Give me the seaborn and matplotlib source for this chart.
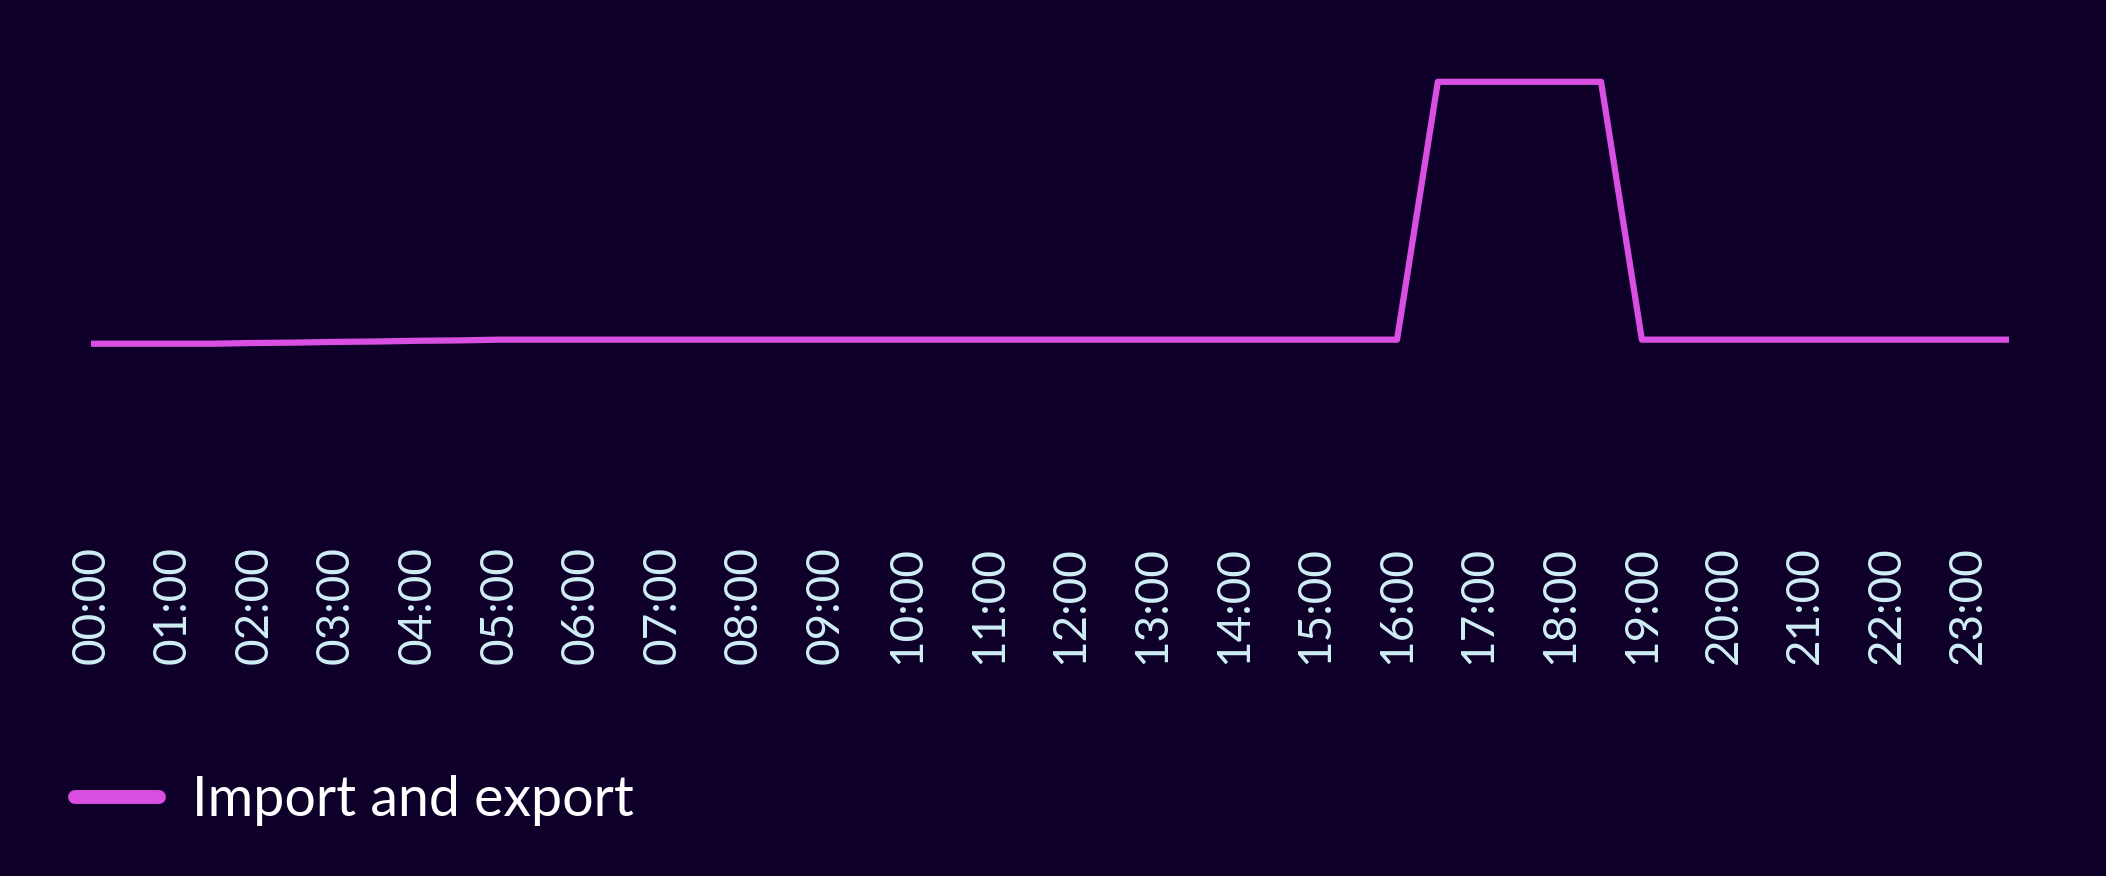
import numpy as np
import pandas as pd
import seaborn as sns
import matplotlib.pyplot as plt
from matplotlib.lines import Line2D

# half-hourly values (relative units)
slots = [f"{h:02d}:{m:02d}" for h in range(24) for m in (0, 30)]
values = [0.289, 0.289, 0.289, 0.289, 0.291, 0.292, 0.294, 0.295, 0.297, 0.298,
          0.300, 0.300, 0.300, 0.300, 0.300, 0.300, 0.300, 0.300, 0.300, 0.300,
          0.300, 0.300, 0.300, 0.300, 0.300, 0.300, 0.300, 0.300, 0.300, 0.300,
          0.300, 0.300, 0.300, 1.000, 1.000, 1.000, 1.000, 1.000, 0.300, 0.300,
          0.300, 0.300, 0.300, 0.300, 0.300, 0.300, 0.300, 0.300]
tick_labels = [f"{h:02d}:00" for h in range(24)]
series_name = "Import and export"

bg = "#0f002a"
line_color = "#d84fe2"
text_color = "#cfeef6"

df = pd.DataFrame({"idx": np.arange(len(slots)), "value": values})

sns.set_style("dark")
plt.rcParams['font.family'] = ['Lato', 'DejaVu Sans']

fig = plt.figure(figsize=(21.06, 8.76), dpi=100, facecolor=bg)
ax = fig.add_axes([0.0433, 0.402, 0.9107, 0.537], facecolor=bg)
sns.lineplot(data=df, x="idx", y="value", ax=ax, color=line_color, linewidth=4.5)

ax.set_xlim(0, len(slots) - 1)
ax.set_ylim(-0.2, 1.077)
ax.set_xticks(np.arange(0, len(slots), 2))
ax.set_xticklabels(tick_labels, rotation=90, color=text_color, fontsize=33)
ax.set_yticks([])
ax.tick_params(axis="x", length=0, pad=16)
ax.set_xlabel("")
ax.set_ylabel("")
ax.grid(False)
for s in ax.spines.values():
    s.set_visible(False)

handle = Line2D([], [], color=line_color, linewidth=10, solid_capstyle="round")
fig.legend([handle], [series_name], loc="lower left", bbox_to_anchor=(0.012, 0.0),
           frameon=False, fontsize=40, labelcolor="white", handlelength=1.5,
           handletextpad=0.6)

fig.savefig("out.png", dpi=100, facecolor=bg)
